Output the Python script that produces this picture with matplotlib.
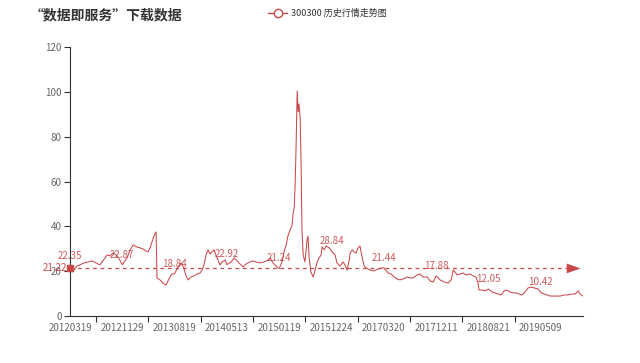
import matplotlib
matplotlib.use("Agg")
import matplotlib.pyplot as plt
from matplotlib.lines import Line2D

plt.rcParams['font.family'] = ['Noto Sans CJK SC', 'DejaVu Sans']

title = "“数据即服务”下载数据"
series_name = "300300 历史行情走势图"

# trading-day index and closing price
day_idx = [0, 7, 13, 23, 33, 47, 60, 74, 87, 100, 114, 124, 134, 144, 154, 161, 175,
           191, 201, 211, 224, 234, 244, 254, 261, 268, 274, 281, 288, 291, 301, 311, 321,
           331, 341, 350, 361, 371, 381, 388, 395, 405, 415, 425, 435, 442, 448, 455, 462,
           468, 475, 482, 489, 495, 502, 509, 519, 525, 539, 549, 559, 569, 579, 589, 602,
           612, 622, 636, 649, 663, 669, 679, 689, 696, 700, 709, 716, 723, 729, 736, 743,
           746, 750, 753, 756, 760, 763, 766, 770, 773, 776, 780, 786, 793, 796, 800, 806,
           813, 820, 826, 833, 840, 843, 850, 857, 867, 875, 887, 893, 903, 913, 920, 927,
           934, 937, 944, 950, 957, 964, 970, 977, 984, 990, 1004, 1017, 1031, 1041, 1050,
           1064, 1074, 1084, 1094, 1104, 1114, 1128, 1138, 1148, 1161, 1171, 1181, 1195,
           1205, 1215, 1225, 1238, 1251, 1265, 1275, 1282, 1288, 1295, 1305, 1315, 1325,
           1338, 1348, 1358, 1365, 1368, 1379, 1389, 1400, 1412, 1422, 1432, 1442, 1452,
           1462, 1472, 1482, 1492, 1502, 1512, 1522, 1532, 1543, 1553, 1566, 1575, 1586,
           1596, 1606, 1616, 1630, 1640, 1653, 1666, 1680, 1690, 1700, 1706, 1716]
price = [22.35, 19.6, 20.5, 22.3, 22.8, 23.7, 24.1, 24.6, 23.7, 22.8, 25.4, 27.2, 26.8,
         28.1, 27.2, 26.3, 22.87, 25.9, 29.5, 31.7, 30.8, 30.4, 29.9, 29.0, 28.6, 30.4,
         33.0, 35.7, 37.5, 17.0, 16.1, 14.7, 13.8, 16.5, 18.75, 18.84, 21.9, 23.7, 21.4,
         17.9, 16.1, 17.4, 17.9, 18.75, 19.2, 20.5, 22.8, 27.2, 29.5, 27.7, 28.6, 29.5,
         26.8, 25.0, 22.8, 24.1, 25.0, 22.92, 24.1, 25.9, 24.6, 23.2, 21.9, 23.2, 24.1,
         24.6, 24.1, 23.7, 24.1, 25.0, 25.9, 23.7, 22.3, 21.4, 21.24, 24.1, 28.6, 31.7,
         35.7, 38.4, 40.6, 45.5, 48.2, 58.5, 74.1, 100.4, 91.1, 94.6, 88.4, 67.4, 38.4,
         27.2, 24.1, 33.9, 35.7, 25.9, 19.6, 17.4, 20.5, 23.7, 25.9, 27.2, 30.8, 29.5,
         31.25, 30.4, 28.84, 27.2, 23.7, 22.3, 24.1, 22.8, 20.5, 25.0, 28.1, 29.5, 28.6,
         28.1, 30.4, 31.25, 26.3, 22.3, 21.4, 20.5, 20.1, 21.0, 21.4, 21.44, 19.2, 18.75,
         17.4, 16.5, 16.1, 16.5, 17.4, 17.0, 17.0, 18.3, 18.75, 17.4, 17.4, 15.6, 15.2,
         17.88, 16.1, 15.2, 14.7, 16.1, 20.5, 19.6, 18.3, 18.75, 19.2, 18.3, 18.75, 17.9,
         17.4, 14.7, 11.6, 11.6, 11.2, 12.05, 10.7, 10.3, 9.8, 9.4, 11.2, 11.6, 10.7,
         10.3, 10.3, 9.8, 9.4, 10.7, 12.5, 12.9, 12.5, 12.05, 10.42, 9.8, 9.4, 8.9, 8.9,
         8.9, 8.9, 9.4, 9.4, 9.8, 9.8, 11.2, 9.8, 8.9]

label_idx = [0, 175, 350, 525, 700, 875, 1050, 1225, 1400, 1575]
label_dates = ["20120319", "20121129", "20130819", "20140513", "20150119",
               "20151224", "20170320", "20171211", "20180821", "20190509"]
label_vals = [22.35, 22.87, 18.84, 22.92, 21.24, 28.84, 21.44, 17.88, 12.05, 10.42]
average = 21.22

red = '#c8484a'
axis_c = '#333333'
text_c = '#666666'

fig = plt.figure(figsize=(6.4, 3.63), dpi=100)
ax = fig.add_axes([70/640, 1-316/363, 513/640, 269/363])

ax.plot(day_idx, price, color=red, lw=0.75, zorder=3)

x_end = day_idx[-1]
ax.set_xlim(0, x_end)
ax.set_ylim(0, 120)

# average mark line
ax.plot([0, x_end - 15], [average, average], color=red, lw=0.9, ls=(0, (3, 3)), zorder=2)
ax.annotate('', xy=(x_end - 8, average), xytext=(x_end - 70, average),
            arrowprops=dict(arrowstyle='-|>,head_length=1.0,head_width=0.35',
                            color=red, lw=0, shrinkA=0, shrinkB=0), zorder=4)
ax.plot([0], [average], marker='s', ms=4.5, color=red, clip_on=False, zorder=5)
ax.text(-9, average, f"{average:.2f}", color=red, fontsize=7, ha='right', va='center',
        clip_on=False)

for xi, v in zip(label_idx, label_vals):
    ax.text(xi, v + 2.3, f"{v:.2f}", color=red, fontsize=7, ha='center', va='bottom',
            clip_on=False, alpha=0.9)

# axes style
for s in ['top', 'right']:
    ax.spines[s].set_visible(False)
for s in ['left', 'bottom']:
    ax.spines[s].set_color(axis_c)
    ax.spines[s].set_linewidth(0.8)

ax.set_yticks([0, 20, 40, 60, 80, 100, 120])
ax.tick_params(axis='y', labelsize=7, colors=axis_c, labelcolor=text_c, length=4, width=0.8, pad=2)
ax.set_xticks(label_idx)
ax.set_xticklabels(label_dates)
ax.set_xticks([i + 87.5 for i in label_idx[:-1]], minor=True)
ax.tick_params(axis='x', which='major', length=0, labelsize=7, labelcolor=text_c, pad=5)
ax.tick_params(axis='x', which='minor', length=4, width=0.8, colors=axis_c)

# title
fig.text(30/640, 1-15/363, title, fontsize=10, fontweight='bold', color='#333333',
         ha='left', va='center')

# legend
lx0, lx1, ly = 268/640, 287/640, 1-13/363
fig.add_artist(Line2D([lx0, lx1], [ly, ly], color=red, lw=1, transform=fig.transFigure))
fig.add_artist(Line2D([(lx0+lx1)/2], [ly], marker='o', ms=6, mfc='white', mec=red,
                      mew=1, transform=fig.transFigure))
fig.text(291/640, ly, series_name, fontsize=6.5, color=axis_c, ha='left', va='center')

fig.savefig('out.png', dpi=100, facecolor='white')
